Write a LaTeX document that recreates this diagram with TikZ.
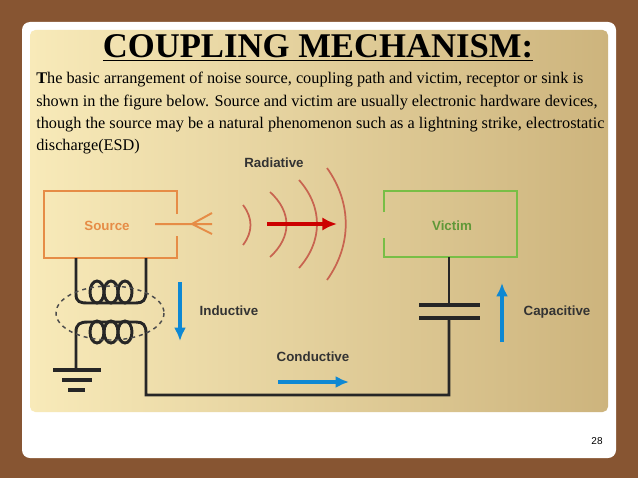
\documentclass[tikz,border=0pt]{standalone}
\usepackage{fontspec}
\setmainfont{Liberation Serif}
\setsansfont{Liberation Sans}
\usetikzlibrary{arrows.meta}
\begin{document}
\begin{tikzpicture}[x=0.75pt,y=-0.75pt,
  wire/.style={line width=2.2pt,black!85},
  lbl/.style={font=\sffamily\bfseries\fontsize{10}{12}\selectfont,text=black!80},
  bluearrow/.style={line width=2.4pt,color=cyan!70!blue,-{Latex[length=10pt,width=9pt]}}]
\definecolor{wood}{RGB}{135,85,50}
\definecolor{tanL}{RGB}{248,234,185}
\definecolor{tanR}{RGB}{205,180,125}
\definecolor{srcO}{RGB}{230,140,70}
\definecolor{vicG}{RGB}{120,190,70}
\definecolor{radR}{RGB}{200,100,80}
\useasboundingbox (0,0) rectangle (638,478);
\fill[wood] (0,0) rectangle (638,478);
\fill[white,rounded corners=6pt] (22,22) rectangle (616,458);
\shade[left color=tanL,right color=tanR,rounded corners=4pt] (30,30) rectangle (608,412);
\node[font=\bfseries\fontsize{26}{28}\selectfont] (title) at (318,48) {\underline{COUPLING MECHANISM:}};
\node[anchor=north west,font=\fontsize{12.2}{16.8}\selectfont,align=left,inner sep=0pt] (para) at (36,72)
 {\textbf{T}he basic arrangement of noise source, coupling path and victim, receptor or sink is\\ shown in the figure below. Source and victim are usually electronic hardware devices,\\ though the source may be a natural phenomenon such as a lightning strike, electrostatic\\ discharge(ESD)};
\node[font=\sffamily\fontsize{7.5}{9}\selectfont] (pg) at (597,441) {28};
% source box
\draw[srcO,line width=1.6pt] (177,214) -- (177,191) -- (44,191) -- (44,258) -- (177,258) -- (177,236);
\node[font=\sffamily\bfseries\fontsize{10}{12}\selectfont,text=srcO] (src) at (107,226) {Source};
\draw[srcO,line width=1.5pt] (155,224) -- (212,224) (212,213) -- (192,224) -- (212,234);
% victim box
\draw[vicG,line width=1.6pt] (384,212) -- (384,191) -- (517,191) -- (517,257) -- (384,257) -- (384,238);
\node[font=\sffamily\bfseries\fontsize{10}{12}\selectfont,text=vicG!80!black] (vic) at (452,226) {Victim};
% radiation arcs
\draw[radR,line width=1.3pt] (243,205) .. controls (253,218) and (253,232) .. (243,245);
\draw[radR,line width=1.3pt] (270,192) .. controls (292,212) and (292,237) .. (270,257);
\draw[radR,line width=1.3pt] (299,180) .. controls (323,207) and (323,241) .. (299,268);
\draw[radR,line width=1.3pt] (327,168) .. controls (352,203) and (352,245) .. (327,280);
\draw[red!80!black,line width=2.4pt,-{Latex[length=11pt,width=10pt]}] (267,224) -- (337,224);
\node[lbl] (rad) at (274,163) {Radiative};
% coils
\draw[wire] (76,258) -- (76,294) .. controls (76,302) and (80,303) .. (88,303) -- (136,303) .. controls (143,303) and (146,300) .. (146,292) -- (146,258);
\foreach \cx in {97,111,125} \draw[wire] (\cx,292) ellipse (7 and 11);
\draw[wire] (76,370) -- (76,332) .. controls (76,324) and (80,322) .. (88,322) -- (136,322) .. controls (143,322) and (146,325) .. (146,333) -- (146,395) -- (449,395) -- (449,318);
\foreach \cx in {97,111,125} \draw[wire] (\cx,332) ellipse (7 and 11);
\draw[dashed,line width=1.1pt,black!70] (110,313) ellipse (54 and 27);
% ground
\draw[wire,line width=3pt] (53,370) -- (101,370);
\draw[wire,line width=2.6pt] (62,380) -- (92,380);
\draw[wire,line width=2.6pt] (68,390) -- (85,390);
% capacitor
\draw[wire] (449,257) -- (449,305);
\draw[wire,line width=3.6pt] (419,305) -- (480,305) (419,318) -- (480,318);
% arrows
\draw[bluearrow] (180,282) -- (180,341);
\node[lbl] (ind) at (229,311) {Inductive};
\draw[bluearrow] (278,382) -- (349,382);
\node[lbl] (cond) at (313,357) {Conductive};
\draw[bluearrow] (502,342) -- (502,283);
\node[lbl] (cap) at (557,312) {Capacitive};
\end{tikzpicture}
\end{document}
